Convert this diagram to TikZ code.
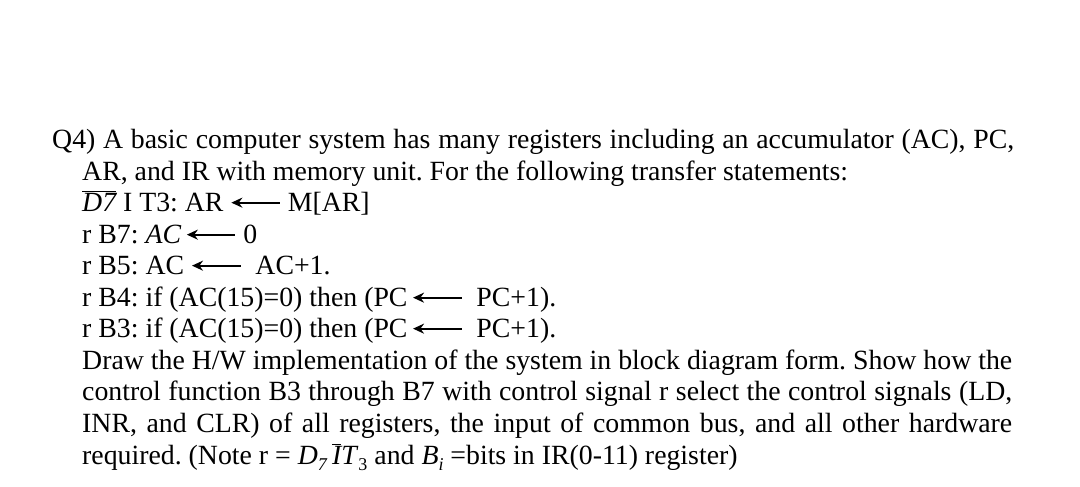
\documentclass[tikz,border=0pt]{standalone}
\usepackage{fontspec}
\setmainfont{Liberation Serif}
\usetikzlibrary{arrows.meta}
\newcommand{\larr}[1][1.75em]{\tikz[baseline=-0.3em,x=1pt,y=1pt]\draw[line width=1.8pt,{Stealth[length=11pt,width=10pt]}-] (0,0)--(#1,0);}
\newcommand{\sub}[1]{\raisebox{-0.25em}{\fontsize{18}{20}\selectfont #1}}
\begin{document}
\frenchspacing
\begin{tikzpicture}[x=1pt,y=-1pt,
  ln/.style={anchor=base west,inner sep=0pt,font=\fontsize{27.8}{32}\selectfont}]
\useasboundingbox[fill=white] (0,0) rectangle (1080,487);
\node[ln] (l1) at (52,148) {\makebox[962pt][s]{Q4) A basic computer system has many registers including an accumulator (AC), PC,}};
\node[ln] (l2) at (82,180) {AR, and IR with memory unit. For the following transfer statements:};
\node[ln] (l3) at (82,211) {$\overline{\textit{D7}}$ I T3: AR \larr\ M[AR]};
\node[ln] (l4) at (82,243) {r B7: \textit{AC}\,\larr[1.75em]\ 0};
\node[ln] (l5) at (82,274) {r B5: AC \larr\ \ AC+1.};
\node[ln] (l6) at (82,306) {r B4: if (AC(15)=0) then (PC\,\larr\ \ PC+1).};
\node[ln] (l7) at (82,337) {r B3: if (AC(15)=0) then (PC\,\larr\ \ PC+1).};
\node[ln] (l8) at (82,369) {\makebox[930pt][s]{Draw the H/W implementation of the system in block diagram form. Show how the}};
\node[ln] (l9) at (82,400) {\makebox[930pt][s]{control function B3 through B7 with control signal r select the control signals (LD,}};
\node[ln] (l10) at (82,432) {\makebox[930pt][s]{INR, and CLR) of all registers, the input of common bus, and all other hardware}};
\node[ln] (l11) at (82,464) {required. (Note r = \textit{D}\sub{\textit{7}}\,$\overline{\textit{I}}$\textit{T}\sub{3} and \textit{B}\sub{\textit{i}} =bits in IR(0-11) register)};
\end{tikzpicture}
\end{document}
